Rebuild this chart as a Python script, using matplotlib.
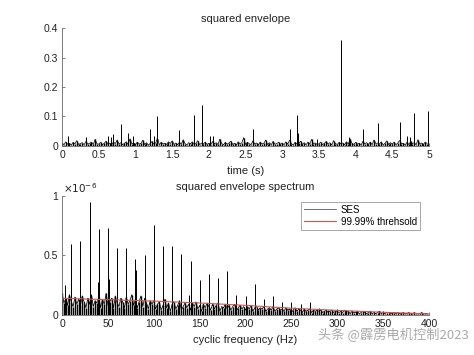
import matplotlib
matplotlib.use("Agg")
import matplotlib.pyplot as plt
import numpy as np

plt.rcParams['font.family'] = ['Liberation Sans', 'Noto Sans CJK SC', 'DejaVu Sans']
plt.rcParams['font.size'] = 7.5

# ---- squared envelope (time domain) ----
dt_grass = 0.025
# background level, thousandths
grass = [10,4,14,6,9,3,12,7,18,5, 8,11,4,15,6,9,13,5,22,7,
         6,12,4,9,16,5,10,3,13,8, 20,6,11,4,9,14,5,24,7,10,
         4,13,6,9,19,5,11,3,8,15, 6,10,26,4,12,7,9,5,14,8,
         17,5,10,4,12,6,21,8,3,11, 7,14,5,9,18,4,10,6,13,5,
         9,3,15,7,11,5,23,8,4,12, 6,10,16,5,9,3,14,7,11,28,
         5,12,8,4,17,6,10,3,13,7, 9,20,5,11,4,15,6,8,12,5,
         10,4,14,6,19,8,3,12,7,9, 16,5,11,4,13,6,22,8,10,5,
         7,13,4,9,15,6,11,3,18,8, 5,12,7,10,4,14,6,24,9,5,
         12,6,9,3,16,7,11,5,13,4, 20,8,10,6,14,3,9,17,5,11,
         6,13,4,10,18,7,9,3,12,5, 15,8,11,4,21,6,10,5,13,8]
spike_t = [0.08, 0.33, 0.62, 0.66, 0.70, 0.80, 0.90, 0.97, 1.20, 1.25, 1.30,
           1.60, 1.80, 1.90, 2.02, 2.05, 2.60, 3.10, 3.20, 3.22, 3.48, 3.805,
           3.91, 4.10, 4.30, 4.60, 4.70, 4.74, 4.80, 4.99]
spike_h = [0.033, 0.030, 0.033, 0.030, 0.040, 0.073, 0.045, 0.035, 0.056, 0.035, 0.102,
           0.055, 0.105, 0.139, 0.032, 0.033, 0.057, 0.059, 0.105, 0.045, 0.025, 0.360,
           0.030, 0.059, 0.077, 0.081, 0.035, 0.030, 0.110, 0.120]

# ---- squared envelope spectrum ----
df_noise = 2.0
# background, units of 1e-8
noise = [18,10,14,8,17,11,7,15,9,13, 8,16,11,6,14,9,17,7,12,10,
         15,6,13,9,18,8,11,14,6,16, 10,7,14,11,6,15,9,12,17,8,
         13,6,11,16,7,14,10,5,12,9, 12,5,9,11,4,8,13,6,10,3,
         9,11,5,8,12,4,7,10,6,9, 4,10,7,11,5,8,3,9,6,10,
         7,4,9,5,8,10,3,7,6,9, 5,8,4,7,9,3,6,8,5,7,
         4,7,5,8,3,6,7,4,6,5, 7,3,5,6,4,7,3,5,6,4,
         5,3,6,4,5,2,4,6,3,5, 4,2,5,3,4,5,2,4,3,4,
         3,4,2,3,4,2,3,4,2,3, 3,2,3,2,4,2,3,1,3,2,
         2,3,1,2,3,2,1,2,3,1, 2,1,2,3,1,2,1,2,2,1,
         1,2,1,2,1,1,2,1,1,2, 1,1,2,1,1,1,2,1,1,1]
peak_f = [3.5, 9.5, 10, 20, 30, 39, 40, 50, 51, 60, 70, 80, 81, 90, 100, 110, 120,
          130, 138, 140, 150, 160, 170, 180, 190, 200, 210, 220, 230, 240, 250, 260,
          270, 280, 290, 300, 310, 320, 330, 340, 350, 360, 370, 380, 390]
peak_v = [0.25, 0.27, 0.60, 0.62, 0.95, 0.28, 0.72, 0.73, 0.30, 0.56, 0.56, 0.47, 0.38,
          0.50, 0.76, 0.58, 0.58, 0.51, 0.17, 0.45, 0.29, 0.34, 0.31, 0.37, 0.17, 0.16,
          0.26, 0.13, 0.16, 0.11, 0.11, 0.09, 0.11, 0.06, 0.04, 0.05, 0.04, 0.03, 0.035,
          0.025, 0.03, 0.02, 0.015, 0.015, 0.01]
thr_f = [0, 50, 100, 150, 200, 250, 300, 350, 400]
thr_v = [0.14, 0.128, 0.116, 0.10, 0.08, 0.056, 0.038, 0.022, 0.008]

t_g = np.arange(len(grass)) * dt_grass
env_g = np.array(grass) * 1e-3
f_n = np.arange(len(noise)) * df_noise
ses_n = np.array(noise) * 1e-8

axcol = '#666666'
txtcol = '#222222'
thrcol = '#cc5555'
fig = plt.figure(figsize=(4.74, 3.55), dpi=100)
ax1 = fig.add_axes([0.131, 0.589, 0.774, 0.332])
ax2 = fig.add_axes([0.131, 0.113, 0.774, 0.335])

for ax in (ax1, ax2):
    ax.spines['top'].set_visible(False)
    ax.spines['right'].set_visible(False)
    for s in ('left', 'bottom'):
        ax.spines[s].set_color(axcol)
        ax.spines[s].set_linewidth(0.6)
    ax.tick_params(direction='in', length=2.5, width=0.6, color=axcol,
                   labelsize=7.5, labelcolor=txtcol, pad=3)

# time signal: background band + impulses
ax1.plot(t_g, env_g, color='black', lw=0.5)
ax1.vlines(t_g, 0, env_g, color='black', lw=1.0)
ax1.vlines(spike_t, 0, spike_h, color='black', lw=0.7)
ax1.set_xlim(0, 5)
ax1.set_ylim(0, 0.4)
ax1.set_xticks(np.arange(0, 5.01, 0.5))
ax1.set_xticklabels(['0', '0.5', '1', '1.5', '2', '2.5', '3', '3.5', '4', '4.5', '5'])
ax1.set_yticks([0, 0.1, 0.2, 0.3, 0.4])
ax1.set_yticklabels(['0', '0.1', '0.2', '0.3', '0.4'])
ax1.set_title('squared envelope', fontsize=8, pad=4, color=txtcol)
ax1.set_xlabel('time (s)', fontsize=8, labelpad=4, color=txtcol)

# spectrum: background + harmonic lines
ax2.plot(f_n, ses_n, color='black', lw=0.55, label='SES')
ax2.vlines(f_n, 0, ses_n, color='black', lw=1.0)
ax2.vlines(peak_f, 0, np.array(peak_v) * 1e-6, color='black', lw=0.7)
ax2.plot(thr_f, np.array(thr_v) * 1e-6, color=thrcol, lw=0.8, label='99.99% threhsold')
ax2.set_xlim(0, 400)
ax2.set_ylim(0, 1e-6)
ax2.set_xticks(np.arange(0, 401, 50))
ax2.set_yticks([0, 0.5e-6, 1e-6])
ax2.set_yticklabels(['0', '0.5', '1'])
ax2.text(0.003, 1.005, r'$\times10^{-6}$', transform=ax2.transAxes, fontsize=7.5,
         va='bottom', ha='left', color=txtcol)
ax2.set_title('squared envelope spectrum', fontsize=8, pad=4, color=txtcol)
ax2.set_xlabel('cyclic frequency (Hz)', fontsize=8, labelpad=4, color=txtcol)
leg = ax2.legend(loc='upper right', bbox_to_anchor=(0.975, 0.95), fontsize=7,
                 handlelength=3.3, fancybox=False, framealpha=1, borderpad=0.3,
                 labelspacing=0.2, handletextpad=0.5, borderaxespad=0)
leg.get_frame().set_edgecolor('#999999')
leg.get_frame().set_linewidth(0.6)
leg.get_lines()[0].set_color('#444444')

fig.text(0.83, 0.055, '头条 @霹雳电机控制2023', fontsize=9.5, color='#aaaaaa',
         ha='center', va='center', family=['Noto Sans CJK SC', 'DejaVu Sans'])

fig.savefig('out.png', dpi=100)
